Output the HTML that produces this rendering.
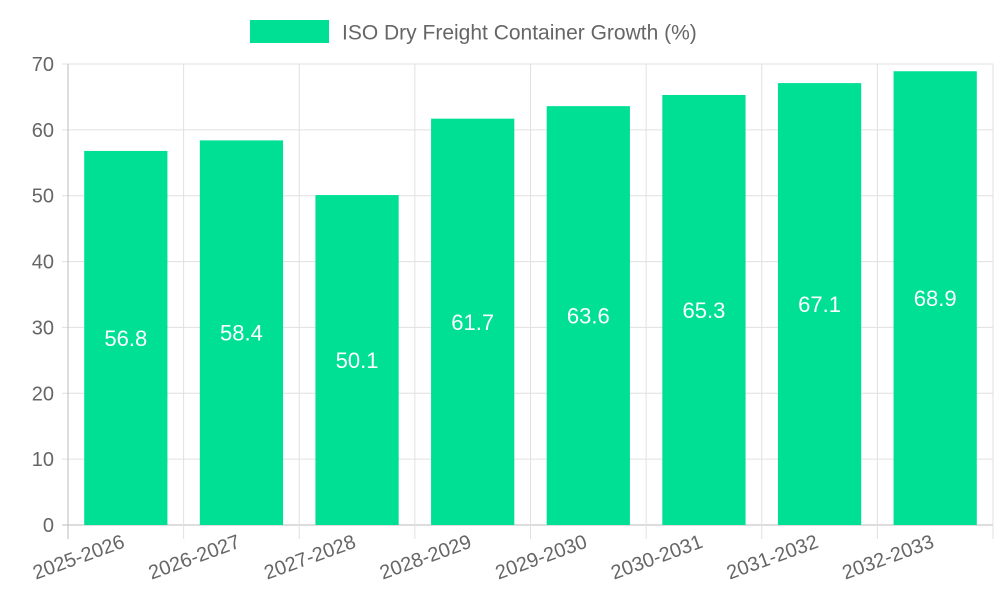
<!DOCTYPE html>
<html><head><meta charset="utf-8"><style>
body{margin:0;background:#fff;font-family:"Liberation Sans",sans-serif}
</style></head><body>
<svg id="c" width="1000" height="600" xmlns="http://www.w3.org/2000/svg">
<g>
<rect x="250" y="20" width="79" height="23" fill="#00e094"/>
<text x="342" y="39.5" font-size="21" fill="#666">ISO Dry Freight Container Growth (%)</text>
</g>
<g id="grid"></g>
<g id="bars"></g>
<g id="axes"></g>
</svg>
<script>
const categories=["2025-2026","2026-2027","2027-2028","2028-2029","2029-2030","2030-2031","2031-2032","2032-2033"];
const values=[56.8,58.4,50.1,61.7,63.6,65.3,67.1,68.9];
const yTicks=[0,10,20,30,40,50,60,70];
const ns="http://www.w3.org/2000/svg";
const L=68,R=993,T=64,B=525,yMax=70;
const band=(R-L)/categories.length;
const y=v=>B-(v/yMax)*(B-T);
const xc=i=>L+band*(i+0.5);
function mk(tag,attrs,parent,txt){const e=document.createElementNS(ns,tag);for(const k in attrs)e.setAttribute(k,attrs[k]);if(txt!==undefined)e.textContent=txt;document.getElementById(parent).appendChild(e);return e;}
yTicks.forEach(t=>{
 const g=mk('line',{x1:L-6,x2:R,y1:y(t),y2:y(t),stroke:t===0?'#bbb':'#e0e0e0','stroke-width':1},'grid');
 
 
 const tx=mk('text',{x:L-14,y:y(t)+7,'text-anchor':'end','font-size':20,fill:'#666'},'axes',String(t));
 
 
});
for(let i=0;i<=categories.length;i++){
 const x=L+band*i;
 const g=mk('line',{x1:x,x2:x,y1:T,y2:B+14,stroke:(i===0)?'#bbb':'#e0e0e0','stroke-width':1},'grid');
 
 
}
values.forEach((v,i)=>{
 const w=band*0.72;
 const r=mk('rect',{x:xc(i)-w/2,y:y(v),width:w,height:B-y(v),fill:'#00e094'},'bars');
 
 
 const t=mk('text',{x:xc(i),y:(y(v)+B)/2+8,'text-anchor':'middle','font-size':22,fill:'#fff'},'bars',v.toFixed(1));
 
 
 const xl=mk('text',{x:xc(i),y:B+22,'text-anchor':'end','font-size':20,fill:'#666',transform:`rotate(-20 ${xc(i)} ${B+22})`},'axes',categories[i]);
 
 
});
</script>
</body></html>
